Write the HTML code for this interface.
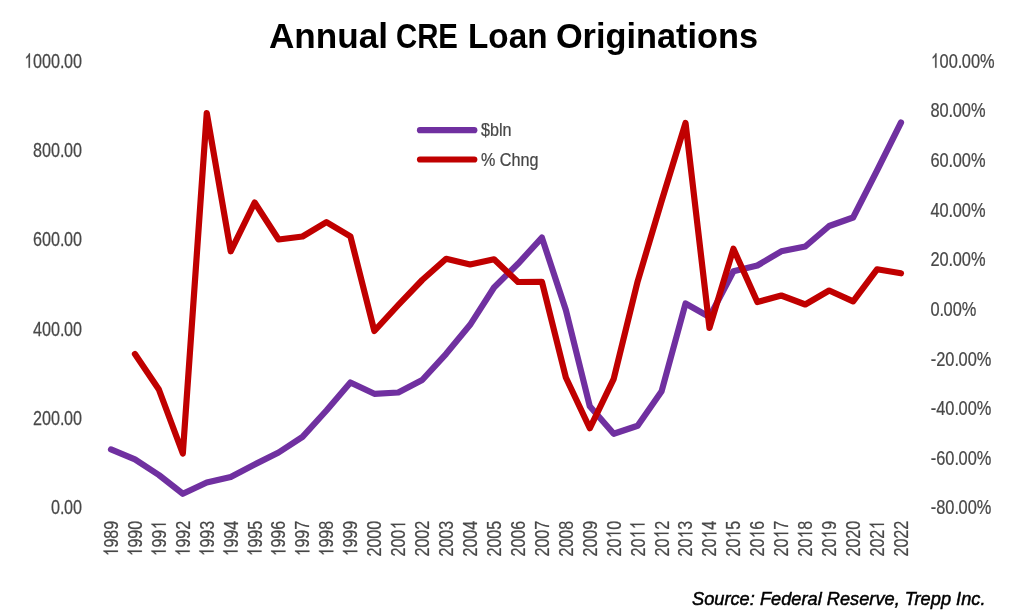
<!DOCTYPE html>
<html><head><meta charset="utf-8"><title>Annual CRE Loan Originations</title>
<style>
html,body{margin:0;padding:0;background:#fff;}
body{width:1024px;height:612px;overflow:hidden;font-family:"Liberation Sans",sans-serif;}
svg{display:block;will-change:transform;}
.ax text{font-family:"Liberation Sans",sans-serif;font-size:20.9px;fill:#484848;stroke:#484848;stroke-width:0.25px;}
.one{fill:#484848;stroke:#484848;stroke-width:24;}
</style></head><body>
<svg width="1024" height="612" viewBox="0 0 1024 612">
<rect width="1024" height="612" fill="#fff"/>
<g font-family="Liberation Sans, sans-serif" font-weight="bold" font-size="35.5" fill="#000" lengthAdjust="spacingAndGlyphs">
<text x="269" y="48" textLength="119" lengthAdjust="spacingAndGlyphs">Annual</text>
<text x="396" y="48" textLength="61.9" lengthAdjust="spacingAndGlyphs">CRE</text>
<text x="468" y="48" textLength="79.5" lengthAdjust="spacingAndGlyphs">Loan</text>
<text x="555.9" y="48" textLength="202.1" lengthAdjust="spacingAndGlyphs">Originations</text>
</g>
<g class="ax" id="axl"><g transform="translate(82,67.8) scale(0.775,1)"><path class="one" transform="translate(-74.94,0) scale(0.01021,-0.01021)" d="M762 0H592V1102Q535 1047 445 990Q355 934 285 906V1061Q410 1129 507 1226Q607 1323 654 1415H762Z"/><text x="-63.31">000</text><text x="-28.54">.</text><text x="-23.25">00</text></g><g transform="translate(82,157.1) scale(0.775,1)"><text x="-63.31">800</text><text x="-28.54">.</text><text x="-23.25">00</text></g><g transform="translate(82,246.4) scale(0.775,1)"><text x="-63.31">600</text><text x="-28.54">.</text><text x="-23.25">00</text></g><g transform="translate(82,335.7) scale(0.775,1)"><text x="-63.31">400</text><text x="-28.54">.</text><text x="-23.25">00</text></g><g transform="translate(82,425.0) scale(0.775,1)"><text x="-63.31">200</text><text x="-28.54">.</text><text x="-23.25">00</text></g><g transform="translate(82,514.3) scale(0.775,1)"><text x="-40.07">0</text><text x="-28.54">.</text><text x="-23.25">00</text></g></g>
<g class="ax" id="axr"><g transform="translate(930.4,67.8) scale(0.785,1)"><path class="one" transform="translate(0.00,0) scale(0.01021,-0.01021)" d="M762 0H592V1102Q535 1047 445 990Q355 934 285 906V1061Q410 1129 507 1226Q607 1323 654 1415H762Z"/><text x="11.62">00</text><text x="34.77">.</text><text x="40.07">00%</text></g><g transform="translate(930.4,117.4) scale(0.785,1)"><text x="0.00">80</text><text x="23.15">.</text><text x="28.44">00%</text></g><g transform="translate(930.4,167.0) scale(0.785,1)"><text x="0.00">60</text><text x="23.15">.</text><text x="28.44">00%</text></g><g transform="translate(930.4,216.6) scale(0.785,1)"><text x="0.00">40</text><text x="23.15">.</text><text x="28.44">00%</text></g><g transform="translate(930.4,266.2) scale(0.785,1)"><text x="0.00">20</text><text x="23.15">.</text><text x="28.44">00%</text></g><g transform="translate(930.4,315.9) scale(0.785,1)"><text x="0.00">0</text><text x="11.52">.</text><text x="16.82">00%</text></g><g transform="translate(930.8,365.5) scale(0.785,1)"><text x="0.00">-20</text><text x="30.10">.</text><text x="35.40">00%</text></g><g transform="translate(930.8,415.1) scale(0.785,1)"><text x="0.00">-40</text><text x="30.10">.</text><text x="35.40">00%</text></g><g transform="translate(930.8,464.7) scale(0.785,1)"><text x="0.00">-60</text><text x="30.10">.</text><text x="35.40">00%</text></g><g transform="translate(930.8,514.3) scale(0.785,1)"><text x="0.00">-80</text><text x="30.10">.</text><text x="35.40">00%</text></g></g>
<g class="ax" id="axy"><g transform="translate(117.90,520.7) rotate(-90) scale(0.7717,1)"><path class="one" transform="translate(-46.49,0) scale(0.01021,-0.01021)" d="M762 0H592V1102Q535 1047 445 990Q355 934 285 906V1061Q410 1129 507 1226Q607 1323 654 1415H762Z"/><text x="-34.87">989</text></g><g transform="translate(141.84,520.7) rotate(-90) scale(0.7717,1)"><path class="one" transform="translate(-46.49,0) scale(0.01021,-0.01021)" d="M762 0H592V1102Q535 1047 445 990Q355 934 285 906V1061Q410 1129 507 1226Q607 1323 654 1415H762Z"/><text x="-34.87">990</text></g><g transform="translate(165.78,520.7) rotate(-90) scale(0.7717,1)"><path class="one" transform="translate(-46.49,0) scale(0.01021,-0.01021)" d="M762 0H592V1102Q535 1047 445 990Q355 934 285 906V1061Q410 1129 507 1226Q607 1323 654 1415H762Z"/><text x="-34.87">99</text><path class="one" transform="translate(-11.62,0) scale(0.01021,-0.01021)" d="M762 0H592V1102Q535 1047 445 990Q355 934 285 906V1061Q410 1129 507 1226Q607 1323 654 1415H762Z"/></g><g transform="translate(189.72,520.7) rotate(-90) scale(0.7717,1)"><path class="one" transform="translate(-46.49,0) scale(0.01021,-0.01021)" d="M762 0H592V1102Q535 1047 445 990Q355 934 285 906V1061Q410 1129 507 1226Q607 1323 654 1415H762Z"/><text x="-34.87">992</text></g><g transform="translate(213.66,520.7) rotate(-90) scale(0.7717,1)"><path class="one" transform="translate(-46.49,0) scale(0.01021,-0.01021)" d="M762 0H592V1102Q535 1047 445 990Q355 934 285 906V1061Q410 1129 507 1226Q607 1323 654 1415H762Z"/><text x="-34.87">993</text></g><g transform="translate(237.60,520.7) rotate(-90) scale(0.7717,1)"><path class="one" transform="translate(-46.49,0) scale(0.01021,-0.01021)" d="M762 0H592V1102Q535 1047 445 990Q355 934 285 906V1061Q410 1129 507 1226Q607 1323 654 1415H762Z"/><text x="-34.87">994</text></g><g transform="translate(261.54,520.7) rotate(-90) scale(0.7717,1)"><path class="one" transform="translate(-46.49,0) scale(0.01021,-0.01021)" d="M762 0H592V1102Q535 1047 445 990Q355 934 285 906V1061Q410 1129 507 1226Q607 1323 654 1415H762Z"/><text x="-34.87">995</text></g><g transform="translate(285.48,520.7) rotate(-90) scale(0.7717,1)"><path class="one" transform="translate(-46.49,0) scale(0.01021,-0.01021)" d="M762 0H592V1102Q535 1047 445 990Q355 934 285 906V1061Q410 1129 507 1226Q607 1323 654 1415H762Z"/><text x="-34.87">996</text></g><g transform="translate(309.42,520.7) rotate(-90) scale(0.7717,1)"><path class="one" transform="translate(-46.49,0) scale(0.01021,-0.01021)" d="M762 0H592V1102Q535 1047 445 990Q355 934 285 906V1061Q410 1129 507 1226Q607 1323 654 1415H762Z"/><text x="-34.87">997</text></g><g transform="translate(333.35,520.7) rotate(-90) scale(0.7717,1)"><path class="one" transform="translate(-46.49,0) scale(0.01021,-0.01021)" d="M762 0H592V1102Q535 1047 445 990Q355 934 285 906V1061Q410 1129 507 1226Q607 1323 654 1415H762Z"/><text x="-34.87">998</text></g><g transform="translate(357.29,520.7) rotate(-90) scale(0.7717,1)"><path class="one" transform="translate(-46.49,0) scale(0.01021,-0.01021)" d="M762 0H592V1102Q535 1047 445 990Q355 934 285 906V1061Q410 1129 507 1226Q607 1323 654 1415H762Z"/><text x="-34.87">999</text></g><g transform="translate(381.23,520.7) rotate(-90) scale(0.7717,1)"><text x="-46.49">2000</text></g><g transform="translate(405.17,520.7) rotate(-90) scale(0.7717,1)"><text x="-46.49">200</text><path class="one" transform="translate(-11.62,0) scale(0.01021,-0.01021)" d="M762 0H592V1102Q535 1047 445 990Q355 934 285 906V1061Q410 1129 507 1226Q607 1323 654 1415H762Z"/></g><g transform="translate(429.11,520.7) rotate(-90) scale(0.7717,1)"><text x="-46.49">2002</text></g><g transform="translate(453.05,520.7) rotate(-90) scale(0.7717,1)"><text x="-46.49">2003</text></g><g transform="translate(476.99,520.7) rotate(-90) scale(0.7717,1)"><text x="-46.49">2004</text></g><g transform="translate(500.93,520.7) rotate(-90) scale(0.7717,1)"><text x="-46.49">2005</text></g><g transform="translate(524.87,520.7) rotate(-90) scale(0.7717,1)"><text x="-46.49">2006</text></g><g transform="translate(548.81,520.7) rotate(-90) scale(0.7717,1)"><text x="-46.49">2007</text></g><g transform="translate(572.75,520.7) rotate(-90) scale(0.7717,1)"><text x="-46.49">2008</text></g><g transform="translate(596.69,520.7) rotate(-90) scale(0.7717,1)"><text x="-46.49">2009</text></g><g transform="translate(620.63,520.7) rotate(-90) scale(0.7717,1)"><text x="-46.49">20</text><path class="one" transform="translate(-23.25,0) scale(0.01021,-0.01021)" d="M762 0H592V1102Q535 1047 445 990Q355 934 285 906V1061Q410 1129 507 1226Q607 1323 654 1415H762Z"/><text x="-11.62">0</text></g><g transform="translate(644.57,520.7) rotate(-90) scale(0.7717,1)"><text x="-46.49">20</text><path class="one" transform="translate(-23.25,0) scale(0.01021,-0.01021)" d="M762 0H592V1102Q535 1047 445 990Q355 934 285 906V1061Q410 1129 507 1226Q607 1323 654 1415H762Z"/><path class="one" transform="translate(-11.62,0) scale(0.01021,-0.01021)" d="M762 0H592V1102Q535 1047 445 990Q355 934 285 906V1061Q410 1129 507 1226Q607 1323 654 1415H762Z"/></g><g transform="translate(668.51,520.7) rotate(-90) scale(0.7717,1)"><text x="-46.49">20</text><path class="one" transform="translate(-23.25,0) scale(0.01021,-0.01021)" d="M762 0H592V1102Q535 1047 445 990Q355 934 285 906V1061Q410 1129 507 1226Q607 1323 654 1415H762Z"/><text x="-11.62">2</text></g><g transform="translate(692.45,520.7) rotate(-90) scale(0.7717,1)"><text x="-46.49">20</text><path class="one" transform="translate(-23.25,0) scale(0.01021,-0.01021)" d="M762 0H592V1102Q535 1047 445 990Q355 934 285 906V1061Q410 1129 507 1226Q607 1323 654 1415H762Z"/><text x="-11.62">3</text></g><g transform="translate(716.38,520.7) rotate(-90) scale(0.7717,1)"><text x="-46.49">20</text><path class="one" transform="translate(-23.25,0) scale(0.01021,-0.01021)" d="M762 0H592V1102Q535 1047 445 990Q355 934 285 906V1061Q410 1129 507 1226Q607 1323 654 1415H762Z"/><text x="-11.62">4</text></g><g transform="translate(740.32,520.7) rotate(-90) scale(0.7717,1)"><text x="-46.49">20</text><path class="one" transform="translate(-23.25,0) scale(0.01021,-0.01021)" d="M762 0H592V1102Q535 1047 445 990Q355 934 285 906V1061Q410 1129 507 1226Q607 1323 654 1415H762Z"/><text x="-11.62">5</text></g><g transform="translate(764.26,520.7) rotate(-90) scale(0.7717,1)"><text x="-46.49">20</text><path class="one" transform="translate(-23.25,0) scale(0.01021,-0.01021)" d="M762 0H592V1102Q535 1047 445 990Q355 934 285 906V1061Q410 1129 507 1226Q607 1323 654 1415H762Z"/><text x="-11.62">6</text></g><g transform="translate(788.20,520.7) rotate(-90) scale(0.7717,1)"><text x="-46.49">20</text><path class="one" transform="translate(-23.25,0) scale(0.01021,-0.01021)" d="M762 0H592V1102Q535 1047 445 990Q355 934 285 906V1061Q410 1129 507 1226Q607 1323 654 1415H762Z"/><text x="-11.62">7</text></g><g transform="translate(812.14,520.7) rotate(-90) scale(0.7717,1)"><text x="-46.49">20</text><path class="one" transform="translate(-23.25,0) scale(0.01021,-0.01021)" d="M762 0H592V1102Q535 1047 445 990Q355 934 285 906V1061Q410 1129 507 1226Q607 1323 654 1415H762Z"/><text x="-11.62">8</text></g><g transform="translate(836.08,520.7) rotate(-90) scale(0.7717,1)"><text x="-46.49">20</text><path class="one" transform="translate(-23.25,0) scale(0.01021,-0.01021)" d="M762 0H592V1102Q535 1047 445 990Q355 934 285 906V1061Q410 1129 507 1226Q607 1323 654 1415H762Z"/><text x="-11.62">9</text></g><g transform="translate(860.02,520.7) rotate(-90) scale(0.7717,1)"><text x="-46.49">2020</text></g><g transform="translate(883.96,520.7) rotate(-90) scale(0.7717,1)"><text x="-46.49">202</text><path class="one" transform="translate(-11.62,0) scale(0.01021,-0.01021)" d="M762 0H592V1102Q535 1047 445 990Q355 934 285 906V1061Q410 1129 507 1226Q607 1323 654 1415H762Z"/></g><g transform="translate(907.90,520.7) rotate(-90) scale(0.7717,1)"><text x="-46.49">2022</text></g></g>
<g fill="none" stroke-width="6.2" stroke-linecap="round" stroke-linejoin="round">
<polyline stroke="#7030a0" points="111.0,449.4 134.94,459.3 158.88,475 182.82,493.8 206.76,482.5 230.7,477 254.64,464.5 278.58,452.5 302.52,436.9 326.45,410.5 350.39,382.5 374.33,393.8 398.27,392.5 422.21,380 446.15,353.8 470.09,324.8 494.03,287.5 517.97,263.8 541.91,237.6 565.85,310 589.79,406.3 613.73,433.8 637.67,425.8 661.61,391.3 685.55,303.5 709.48,317 733.42,271.3 757.36,265.5 781.3,251.3 805.24,246.5 829.18,226 853.12,217.5 877.06,170.5 901.0,122.5"/>
<polyline stroke="#c00000" points="134.94,354 158.88,389.5 182.82,453.5 206.76,113 230.7,251.3 254.64,202.5 278.58,239.5 302.52,236.5 326.45,222.2 350.39,236.3 374.33,331 398.27,305 422.21,280 446.15,258.8 470.09,264.5 494.03,259.3 517.97,282 541.91,281.8 565.85,377.5 589.79,428.3 613.73,378.8 637.67,281.3 661.61,201 685.55,123 709.48,327.8 733.42,248.8 757.36,302 781.3,295.5 805.24,304.5 829.18,290.5 853.12,301.3 877.06,269.3 901.0,273.3"/>
<line stroke="#7030a0" x1="420" y1="130.2" x2="474.3" y2="130.2"/>
<line stroke="#c00000" x1="420" y1="159.5" x2="474.3" y2="159.5"/>
</g>
<g class="ax" style="font-size:18.67px"><text style="font-size:18.67px" transform="translate(481,135.8) scale(0.865,1)">$bln</text><text style="font-size:18.67px" transform="translate(481,165.5) scale(0.865,1)">% Chng</text></g>
<text x="692" y="604.7" textLength="293.5" lengthAdjust="spacingAndGlyphs" font-family="Liberation Sans, sans-serif" font-style="italic" font-size="19" fill="#000" stroke="#000" stroke-width="0.5">Source: Federal Reserve, Trepp Inc.</text>
</svg>
</body></html>
